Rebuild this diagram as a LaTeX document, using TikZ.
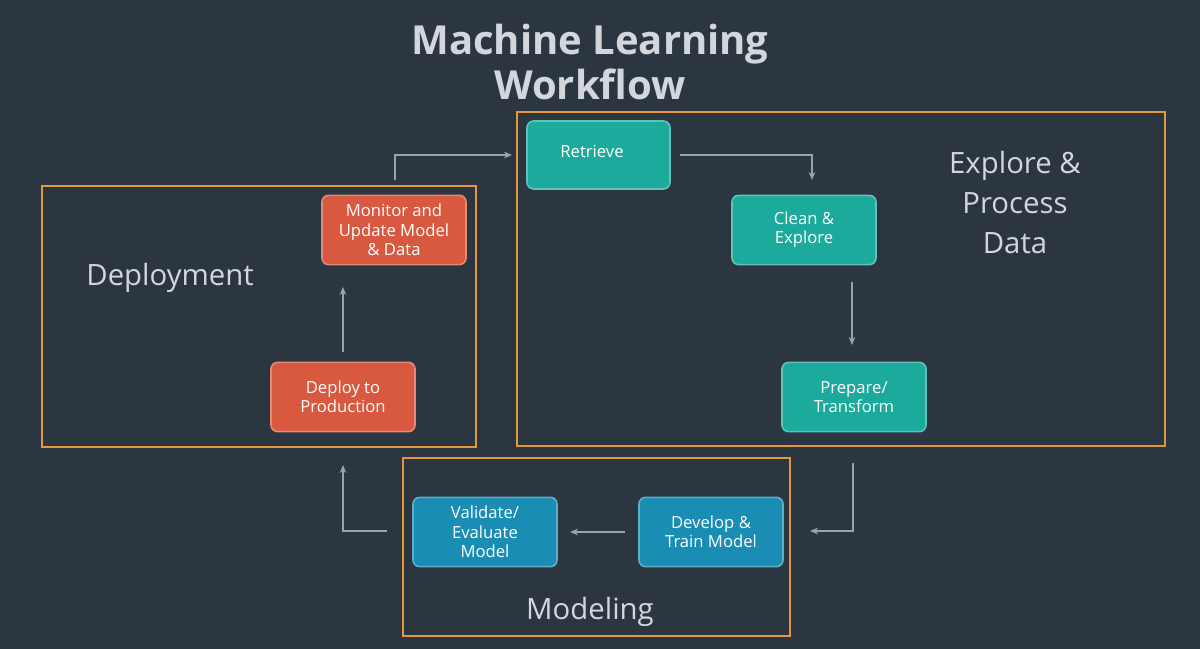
\documentclass[tikz,border=0pt]{standalone}
\usepackage{fontspec}
\setmainfont{Open Sans}
\usetikzlibrary{arrows.meta}
\definecolor{bgc}{HTML}{2C3640}
\definecolor{orng}{HTML}{E5973E}
\definecolor{teal}{HTML}{1BAA9B}
\definecolor{redn}{HTML}{D95840}
\definecolor{blun}{HTML}{1A8DB5}
\definecolor{arr}{HTML}{9AA3AB}
\definecolor{txt}{HTML}{D3D7DB}
\begin{document}
\begin{tikzpicture}[x=0.75pt,y=-0.75pt,
 frame/.style={draw=orng,line width=1.6pt},
 box/.style={rounded corners=5pt,line width=1.2pt,text=white,font=\fontsize{12.5}{14.5}\selectfont,align=center},
 tbox/.style={box,fill=teal,draw=teal!70!white},
 rbox/.style={box,fill=redn,draw=redn!70!white},
 bbox/.style={box,fill=blun,draw=blun!70!white},
 con/.style={draw=arr,line width=0.9pt,-{Stealth[length=6pt,width=5pt]}},
 lab/.style={text=txt,font=\fontsize{22}{30}\selectfont,align=center}]
\fill[bgc] (0,0) rectangle (1200,649);
\useasboundingbox (0,0) rectangle (1200,649);
\node[text=txt,font=\bfseries\fontsize{30}{34}\selectfont,align=center] (title) at (590,62) {Machine Learning\\Workflow};
\draw[frame] (42,186) rectangle (476,447);
\draw[frame] (517,112) rectangle (1165,446);
\draw[frame] (403,458) rectangle (790,636);
\node[lab] (dep) at (170,278) {Deployment};
\node[lab] (exp) at (1015,202) {Explore \&\\Process\\Data};
\node[lab] (mod) at (590,612) {Modeling};
\draw[tbox] (527,121) rectangle (670,189);
\node[text=white,font=\fontsize{12.5}{14.5}\selectfont] (ret) at (592,151) {Retrieve};
\node[tbox,minimum width=108pt,minimum height=52pt] (cle) at (804,230) {Clean \&\\Explore};
\node[tbox,minimum width=108pt,minimum height=52pt] (pre) at (854,397) {Prepare/\\Transform};
\node[bbox,minimum width=108pt,minimum height=52pt] (dev) at (711,532) {Develop \&\\Train Model};
\node[bbox,minimum width=108pt,minimum height=52pt] (val) at (485,532) {Validate/\\Evaluate\\Model};
\node[rbox,minimum width=108pt,minimum height=52pt] (dpl) at (343,397) {Deploy to\\Production};
\node[rbox,minimum width=108pt,minimum height=52pt] (mon) at (394,230) {Monitor and\\Update Model\\\& Data};
\coordinate (a1) at (680,155); \coordinate (a2) at (812,155); \coordinate (a3) at (812,180);
\draw[con] (a1) -- (a2) -- (a3);
\coordinate (b1) at (852,282); \coordinate (b2) at (852,345);
\draw[con] (b1) -- (b2);
\coordinate (c1) at (853,463); \coordinate (c2) at (853,531); \coordinate (c3) at (810,531);
\draw[con] (c1) -- (c2) -- (c3);
\coordinate (d1) at (625,532); \coordinate (d2) at (570,532);
\draw[con] (d1) -- (d2);
\coordinate (e1) at (387,531); \coordinate (e2) at (343,531); \coordinate (e3) at (343,465);
\draw[con] (e1) -- (e2) -- (e3);
\coordinate (f1) at (343,352); \coordinate (f2) at (343,287);
\draw[con] (f1) -- (f2);
\coordinate (g1) at (395,180); \coordinate (g2) at (395,155); \coordinate (g3) at (512,155);
\draw[con] (g1) -- (g2) -- (g3);
\end{tikzpicture}
\end{document}
